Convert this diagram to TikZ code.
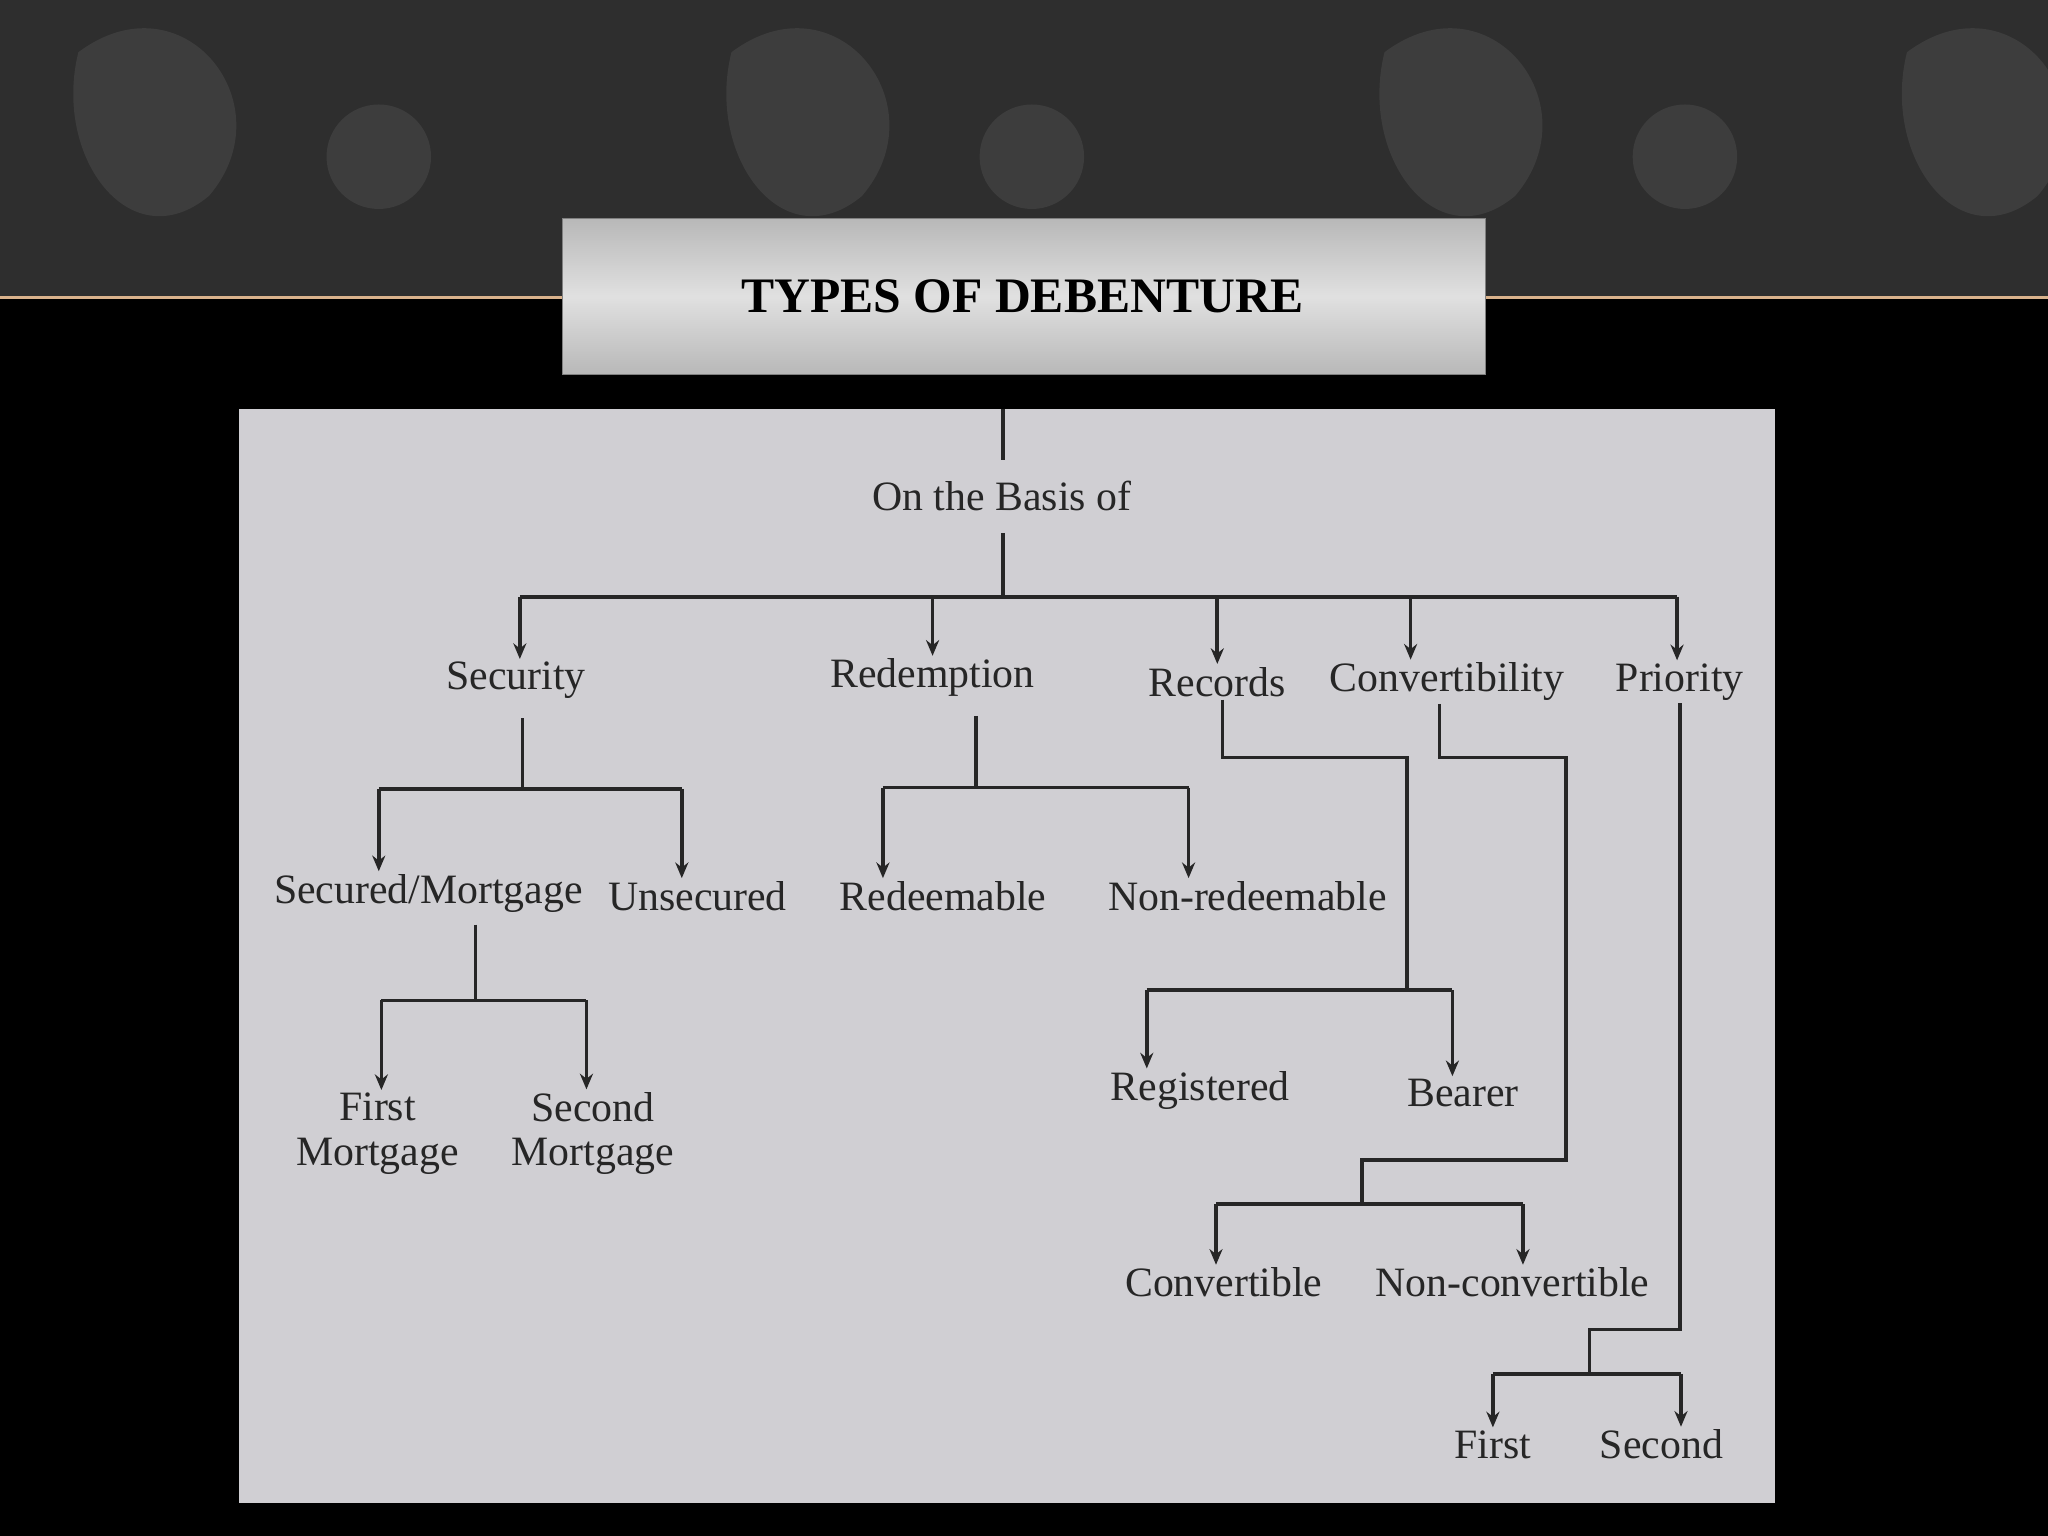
\documentclass[tikz,border=0pt]{standalone}
\usepackage{fontspec}
\setmainfont{Liberation Serif}
\usetikzlibrary{arrows.meta,shadings}
\definecolor{panel}{RGB}{208,207,211}
\begin{document}
\begin{tikzpicture}[x=0.5pt,y=-0.5pt,
  lbl/.style={font=\fontsize{16}{17}\selectfont, text=black!85, inner sep=1pt, align=center},
  ln/.style={line width=1.4pt, black!85},
  ar/.style={ln, -{Stealth[length=6pt,width=5pt]}}]
\useasboundingbox (0,0) rectangle (1568,1176);
\fill[black] (0,0) rectangle (1568,1176);
\fill[black!82] (0,0) rectangle (1568,228);
\foreach \x in {60,560,1060,1460}{
  \fill[black!76] (\x,40) .. controls (\x+80,-20) and (\x+160,80) .. (\x+100,150) .. controls (\x+40,200) and (\x-20,120) .. (\x,40);
  \fill[black!76] (\x+230,120) circle (40);
}
\draw[line width=1pt, brown!60!white] (0,228) -- (1568,228);
\shade[top color=black!28, bottom color=black!28, middle color=black!12, draw=black!50] (431,167) rectangle (1137,287);
\node[font=\bfseries\fontsize{19}{20}\selectfont] (title) at (783,227) {TYPES OF DEBENTURE};
\fill[panel] (183,313) rectangle (1359,1151);

\node[lbl] (basis) at (767,380) {On the Basis of};
\node[lbl] (sec) at (395,521) {Security};
\node[lbl] (red) at (714,519) {Redemption};
\node[lbl] (rec) at (932,522) {Records};
\node[lbl] (conv) at (1108,522) {Convertibility};
\node[lbl] (pri) at (1286,522) {Priority};
\node[lbl] (secm) at (328,684) {Secured/Mortgage};
\node[lbl] (unsec) at (534,686) {Unsecured};
\node[lbl] (redm) at (722,686) {Redeemable};
\node[lbl] (nred) at (955,686) {Non-redeemable};
\node[lbl] (fm) at (289,868) {First\\Mortgage};
\node[lbl] (sm) at (454,868) {Second\\Mortgage};
\node[lbl] (reg) at (919,835) {Registered};
\node[lbl] (bea) at (1120,837) {Bearer};
\node[lbl] (cvt) at (937,982) {Convertible};
\node[lbl] (ncvt) at (1158,982) {Non-convertible};
\node[lbl] (first) at (1143,1106) {First};
\node[lbl] (second) at (1272,1106) {Second};

\coordinate (top) at (768,313);
\coordinate (btop) at (768,352);
\coordinate (bbot) at (768,408);
\draw[ln] (top) -- (btop);
\draw[ln] (bbot) -- (768,457);
\draw[ln] (398,457) -- (1284,457);
\foreach \n/\x in {sec/398,red/714,rec/932,conv/1080,pri/1284}
  \draw[ar] (\x,457) -- (\n.north -| \x,0);
% security
\draw[ln] (400,550) -- (400,604); \draw[ln] (290,604) -- (522,604);
\draw[ar] (290,604) -- (secm.north -| 290,0);
\draw[ar] (522,604) -- (unsec.north -| 522,0);
% redemption
\draw[ln] (747,548) -- (747,603); \draw[ln] (676,603) -- (910,603);
\draw[ar] (676,603) -- (redm.north -| 676,0);
\draw[ar] (910,603) -- (nred.north -| 910,0);
% secured
\draw[ln] (364,708) -- (364,766); \draw[ln] (292,766) -- (449,766);
\draw[ar] (292,766) -- (fm.north -| 292,0);
\draw[ar] (449,766) -- (sm.north -| 449,0);
% records
\draw[ln] (rec.south -| 936,0) -- (936,580) -- (1077,580) -- (1077,758);
\draw[ln] (878,758) -- (1112,758);
\draw[ar] (878,758) -- (reg.north -| 878,0);
\draw[ar] (1112,758) -- (bea.north -| 1112,0);
% convertibility
\draw[ln] (conv.south -| 1102,0) -- (1102,580) -- (1199,580) -- (1199,888) -- (1043,888) -- (1043,922);
\draw[ln] (931,922) -- (1166,922);
\draw[ar] (931,922) -- (cvt.north -| 931,0);
\draw[ar] (1166,922) -- (ncvt.north -| 1166,0);
% priority
\draw[ln] (pri.south -| 1286,0) -- (1286,1018) -- (1217,1018) -- (1217,1052);
\draw[ln] (1143,1052) -- (1287,1052);
\draw[ar] (1143,1052) -- (first.north -| 1143,0);
\draw[ar] (1287,1052) -- (second.north -| 1287,0);
\end{tikzpicture}
\end{document}
